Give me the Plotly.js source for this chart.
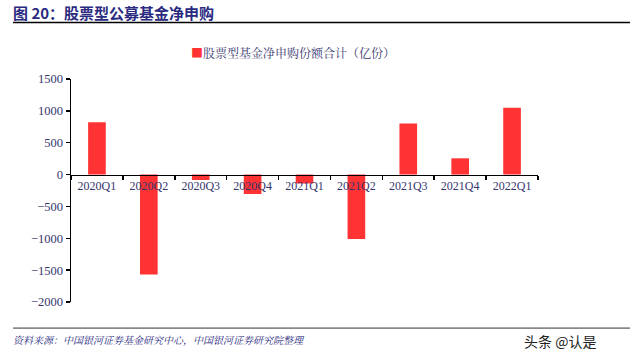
<!DOCTYPE html>
<html><head><meta charset="utf-8">
<script src="https://cdn.plot.ly/plotly-3.0.1.min.js"></script>
<style>html,body{margin:0;padding:0;background:#fff}#c{width:640px;height:359px}</style>
</head><body><div id="c"></div>
<script>
const categories = ["2020Q1","2020Q2","2020Q3","2020Q4","2021Q1","2021Q2","2021Q3","2021Q4","2022Q1"];
const netPurchase = [820, -1570, -85, -305, -140, -1010, 800, 255, 1050];
const seriesName = "股票型基金净申购份额合计（亿份）";
const yTicks = [-2000, -1500, -1000, -500, 0, 500, 1000, 1500];
const titleText = "图 20：股票型公募基金净申购";
const sourceText = "资料来源：中国银河证券基金研究中心，中国银河证券研究院整理";
const watermark = "头条 @认是";

const yMin = -2000, yMax = 1500;
const navy = "#35356e";
const barColor = "#ff3333";
const serif = "'Liberation Serif', 'Noto Serif CJK SC', serif";
const cjk = "'Noto Sans CJK SC', sans-serif";

const data = [{
  type: "bar", x: categories, y: netPurchase, name: seriesName,
  marker: {color: barColor}, width: 0.34, showlegend: false
}];

const layout = {
  width: 640, height: 359,
  margin: {l: 71, r: 102, t: 79, b: 57},
  paper_bgcolor: "#fff", plot_bgcolor: "#fff",
  showlegend: false,
  xaxis: {
    type: "category", anchor: "free", position: (0 - yMin) / (yMax - yMin),
    showline: true, linecolor: "#000", linewidth: 1.5,
    ticks: "outside", tickson: "boundaries", ticklen: 4, tickcolor: "#000", tickwidth: 1.5,
    showgrid: false, zeroline: false,
    tickfont: {family: serif, size: 12, color: navy}
  },
  yaxis: {
    range: [yMin, yMax], tickmode: "array", tickvals: yTicks,
    showline: true, linecolor: "#000", linewidth: 1.5,
    ticks: "outside", ticklen: 4, tickcolor: "#000", tickwidth: 1.5,
    showgrid: false, zeroline: false,
    tickfont: {family: serif, size: 12.5, color: navy}
  },
  shapes: [
    {type: "line", xref: "paper", yref: "paper", x0: -0.124, x1: 1.197, y0: 1.253, y1: 1.253,
     line: {color: "#000", width: 1.5}},
    {type: "line", xref: "paper", yref: "paper", x0: -0.124, x1: 1.197, y0: -0.117, y1: -0.117,
     line: {color: "#333", width: 1}}
  ],
  annotations: [
    {text: "<b>" + titleText + "</b>", xref: "paper", yref: "paper", x: -0.128, y: 1.30,
     xanchor: "left", yanchor: "middle", showarrow: false,
     font: {family: cjk, size: 15, color: "#2a2a80"}},
    {text: "<span style='color:" + barColor + "'>■</span>" + seriesName, xref: "paper", yref: "paper",
     x: 0.252, y: 1.121, xanchor: "left", yanchor: "middle", showarrow: false,
     font: {family: "'Noto Serif CJK SC', " + cjk, size: 12, color: navy}},
    {text: "<i>" + sourceText + "</i>", xref: "paper", yref: "paper", x: -0.128, y: -0.17,
     xanchor: "left", yanchor: "middle", showarrow: false,
     font: {family: "'Noto Serif CJK SC', " + cjk, size: 10, color: "#2a2a80"}},
    {text: watermark, xref: "paper", yref: "paper", x: 1.128, y: -0.175,
     xanchor: "right", yanchor: "middle", showarrow: false,
     font: {family: cjk, size: 14, color: "#222"}}
  ]
};

Plotly.newPlot("c", data, layout, {displayModeBar: false, staticPlot: true});
</script></body></html>
